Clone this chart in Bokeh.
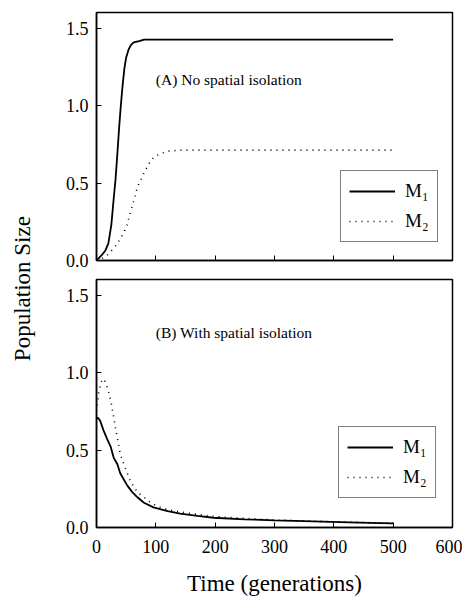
from math import pi

from bokeh.embed import file_html
from bokeh.layouts import column, row
from bokeh.models import Label, PrintfTickFormatter, Range1d
from bokeh.plotting import figure
from bokeh.resources import INLINE

FONT = "Liberation Serif"

# (A) no spatial isolation
t_a_m1 = [0, 5, 10, 15, 20, 25, 29, 32, 35, 38, 41, 44, 47, 50, 54, 58, 62, 66, 72, 80, 500]
a_m1 = [0, 0.02, 0.04, 0.065, 0.11, 0.23, 0.40, 0.52, 0.68, 0.85, 1.0, 1.13, 1.24, 1.31,
        1.36, 1.39, 1.405, 1.41, 1.415, 1.425, 1.425]
t_a_m2 = [0, 10, 20, 28, 35, 40, 46, 52, 57, 61, 65, 68, 72, 76, 80, 85, 90, 96, 108, 120, 140, 500]
a_m2 = [0, 0.015, 0.04, 0.075, 0.107, 0.14, 0.18, 0.235, 0.31, 0.36, 0.415, 0.46, 0.50,
        0.53, 0.565, 0.60, 0.635, 0.665, 0.69, 0.705, 0.712, 0.712]

# (B) with spatial isolation
t_b_m1 = [0, 2, 6, 12, 18, 24, 29, 35, 40, 46, 52, 60, 69, 80, 96, 120, 141, 170, 197,
          250, 300, 350, 410, 460, 500]
b_m1 = [0.70, 0.71, 0.69, 0.625, 0.57, 0.52, 0.45, 0.41, 0.35, 0.31, 0.27, 0.23, 0.195,
        0.16, 0.13, 0.105, 0.09, 0.075, 0.063, 0.053, 0.046, 0.041, 0.035, 0.03, 0.026]
t_b_m2 = [0, 4, 8, 12, 16, 20, 24, 29, 35, 40, 46, 52, 57, 63, 70, 80, 90, 101, 120, 150,
          200, 300, 400, 500]
b_m2 = [0.75, 0.88, 0.94, 0.96, 0.93, 0.88, 0.82, 0.71, 0.58, 0.475, 0.41, 0.35, 0.30,
        0.26, 0.225, 0.195, 0.165, 0.14, 0.115, 0.095, 0.07, 0.048, 0.037, 0.027]

x_ticks = [0, 100, 200, 300, 400, 500, 600]
y_ticks = [0.0, 0.5, 1.0, 1.5]


def panel(height, top, bottom, show_labels):
    p = figure(width=414, height=height, x_range=Range1d(0, 600), y_range=Range1d(0, 1.6),
               toolbar_location=None, output_backend="svg",
               min_border_left=48, min_border_right=10,
               min_border_top=top, min_border_bottom=bottom)
    p.grid.visible = False
    p.outline_line_color = "black"
    p.outline_line_width = 1.5
    p.xaxis.ticker = x_ticks
    p.yaxis.ticker = y_ticks
    p.yaxis.formatter = PrintfTickFormatter(format="%.1f")
    for ax in p.axis:
        ax.axis_line_width = 1.5
        ax.major_tick_in = 5
        ax.major_tick_out = 0
        ax.minor_tick_line_color = None
        ax.major_label_text_font = FONT
        ax.major_label_text_font_size = "18px"
        ax.major_label_text_color = "black"
    p.yaxis.major_label_standoff = 8
    if show_labels:
        p.xaxis.major_label_standoff = 12
        p.xaxis.axis_label = "Time (generations)"
        p.xaxis.axis_label_text_font = FONT
        p.xaxis.axis_label_text_font_size = "23px"
        p.xaxis.axis_label_text_font_style = "normal"
        p.xaxis.axis_label_text_color = "black"
        p.xaxis.axis_label_standoff = 15
    else:
        p.xaxis.major_label_overrides = {t: "" for t in x_ticks}
        p.xaxis.major_label_standoff = 0
    return p


def style_legend(p, loc):
    lg = p.legend[0]
    lg.location = loc
    lg.label_text_font = FONT
    lg.label_text_font_size = "19px"
    lg.label_text_color = "black"
    lg.border_line_color = "black"
    lg.border_line_width = 1.2
    lg.background_fill_alpha = 1
    lg.glyph_width = 46
    lg.glyph_height = 24
    lg.label_height = 24
    lg.label_standoff = 10
    lg.spacing = 6
    lg.padding = 8
    lg.margin = 0


p1 = panel(270, 12, 10, False)
p1.line(t_a_m1, a_m1, line_color="black", line_width=1.8, legend_label="M\u2081")
p1.line(t_a_m2, a_m2, line_color="black", line_width=1.6, line_dash="1 5",
        legend_label="M\u2082")
style_legend(p1, (244, 18))
p1.add_layout(Label(x=100, y=1.17, text="(A) No spatial isolation", text_font=FONT,
                    text_font_size="15.5px", text_color="black", text_baseline="middle"))

p2 = panel(329, 9, 72, True)
p2.line(t_b_m1, b_m1, line_color="black", line_width=1.8, legend_label="M\u2081")
p2.line(t_b_m2, b_m2, line_color="black", line_width=1.6, line_dash="1 5",
        legend_label="M\u2082")
style_legend(p2, (242, 29))
p2.add_layout(Label(x=100, y=1.26, text="(B) With spatial isolation", text_font=FONT,
                    text_font_size="15.5px", text_color="black", text_baseline="middle"))

# shared y axis title
ylab = figure(width=48, height=599, x_range=Range1d(0, 1), y_range=Range1d(0, 1),
              x_axis_type=None, y_axis_type=None,
              toolbar_location=None, output_backend="svg", min_border=0)
ylab.grid.visible = False
ylab.outline_line_color = None
ylab.add_layout(Label(x=0.46, y=0.519, text="Population Size", angle=pi / 2,
                      text_font=FONT, text_font_size="23px", text_color="black",
                      text_align="center", text_baseline="middle"))

layout = row(ylab, column(p1, p2))
open("out.html", "w").write(file_html(layout, INLINE))
